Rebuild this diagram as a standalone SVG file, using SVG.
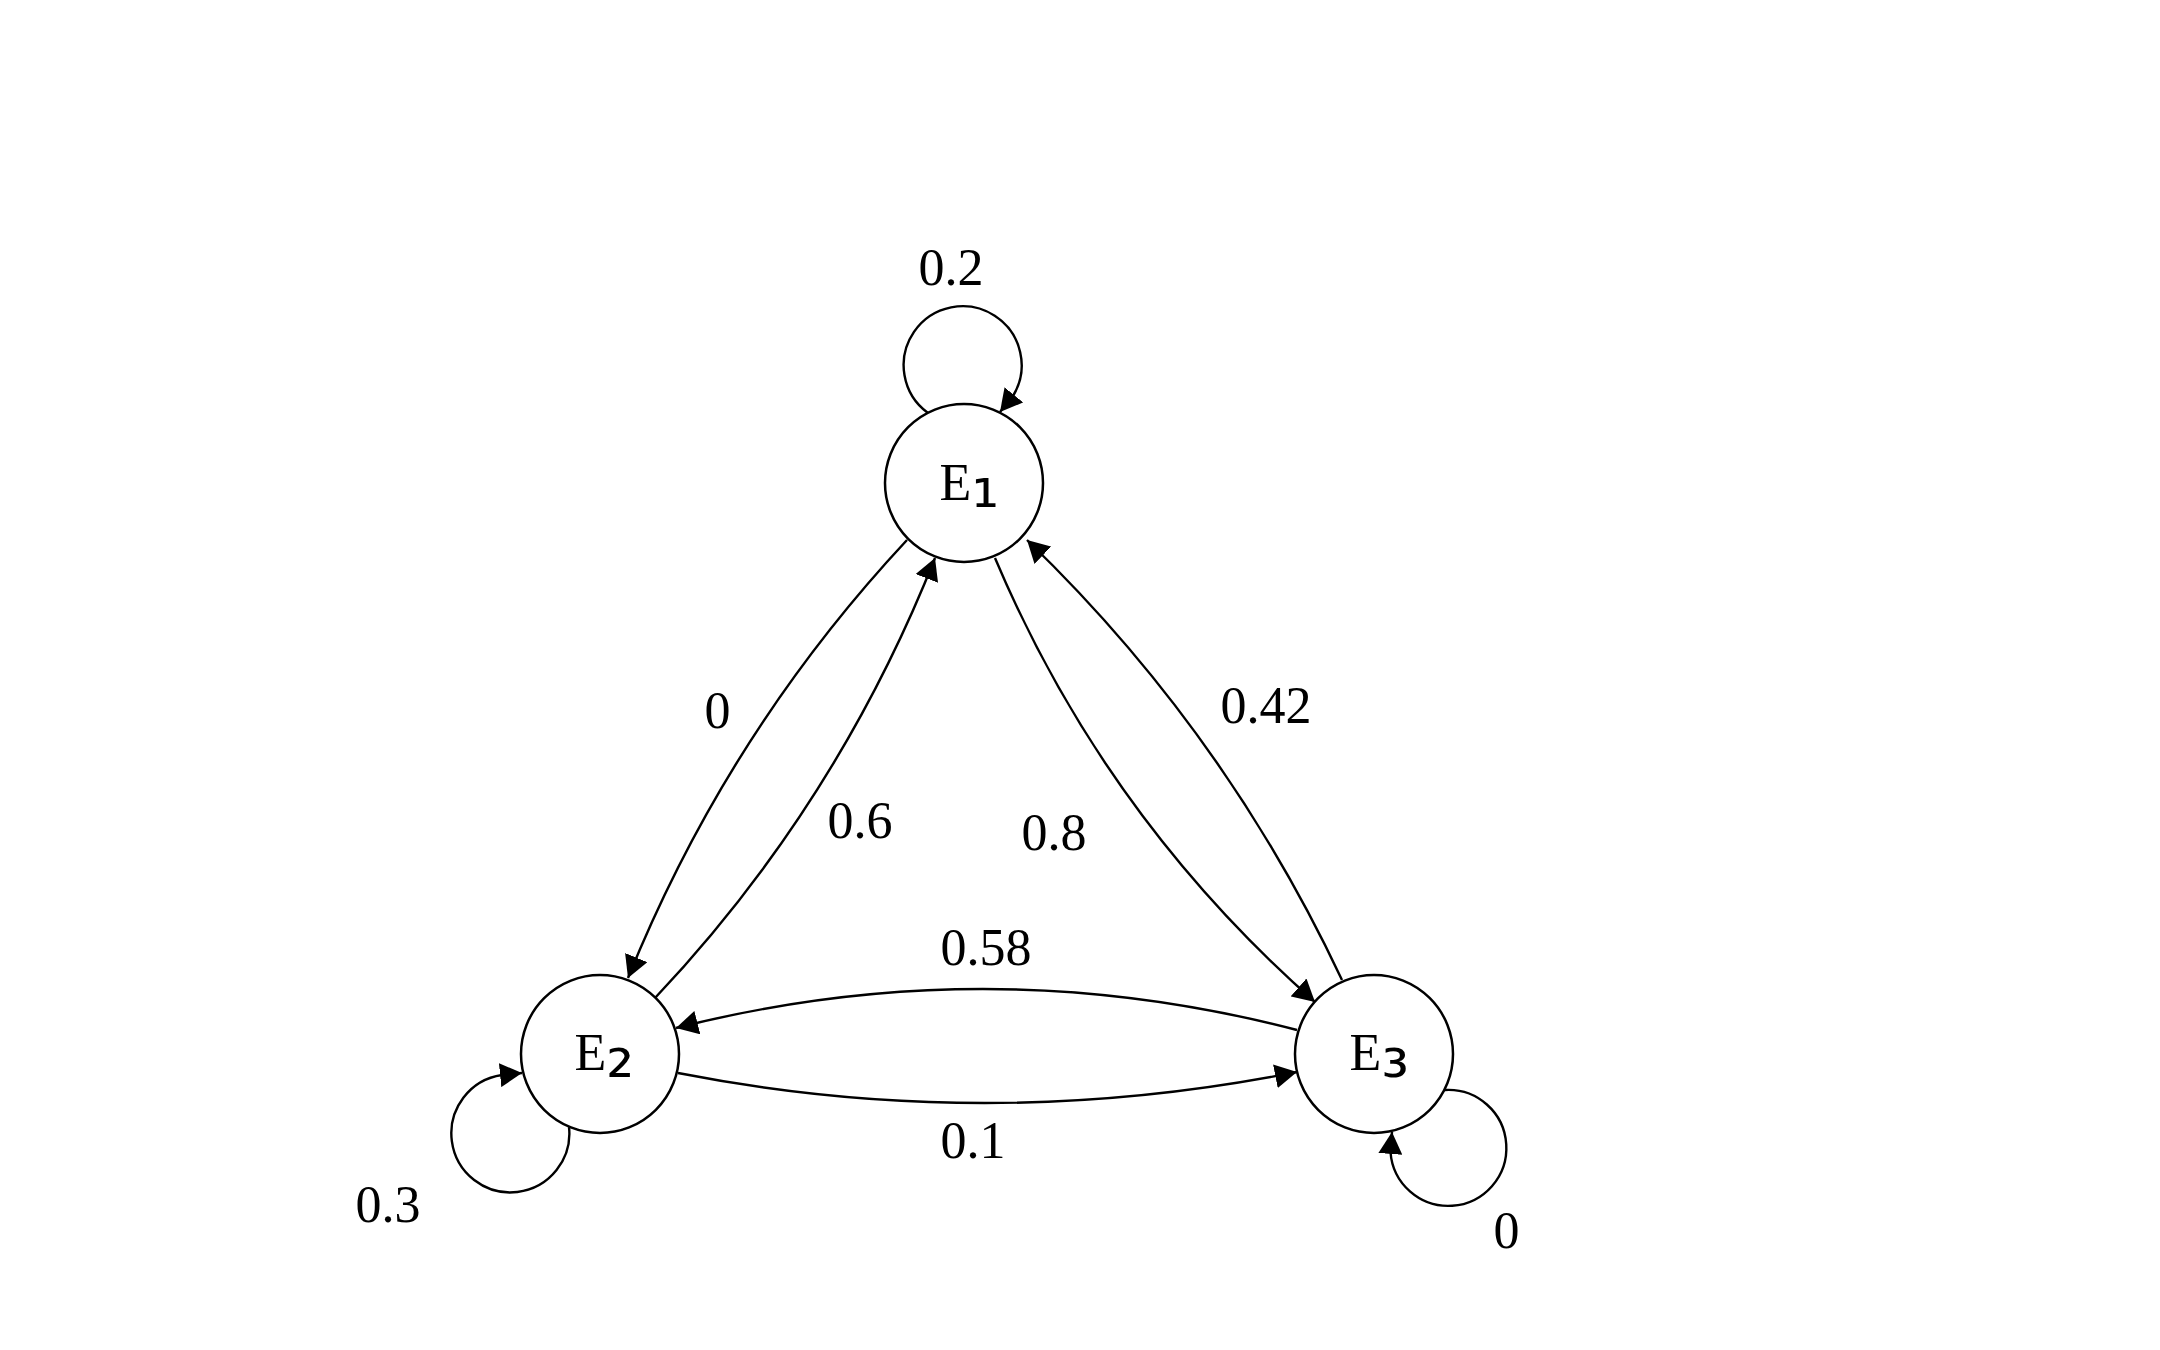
<svg xmlns="http://www.w3.org/2000/svg" width="2160" height="1350" viewBox="0 0 2160 1350">
<style>
.edge{fill:none;stroke:#000;stroke-width:2.4;marker-end:url(#arrow)}
.node{fill:#fff;stroke:#000;stroke-width:2.5}
.lbl{font-family:"Liberation Serif","Times New Roman",serif;font-size:52px;fill:#000}
.sub{font-family:"DejaVu Sans","Noto Sans",sans-serif;font-size:70px}
</style>
<defs>
<marker id="arrow" viewBox="0 0 22 24" refX="22" refY="12" markerWidth="22" markerHeight="24" markerUnits="userSpaceOnUse" orient="auto">
<path d="M0,0L22,12L0,24z" fill="#000"/>
</marker>
</defs>
<rect width="2160" height="1350" fill="#fff"/>
<g id="connectors">
<path class="edge" d="M928,413 A59,59 0 1 1 1013,396 L1000,412"/>
<path class="edge" d="M569,1127 A59,59 0 1 1 502,1075 L522,1073"/>
<path class="edge" d="M1445,1090 A58,58 0 1 1 1390.5,1152 L1392,1132"/>
<path class="edge" d="M907,540 Q727,733 628,978"/>
<path class="edge" d="M655,998 Q837,805 935,558"/>
<path class="edge" d="M995,558 Q1104,816 1315,1002"/>
<path class="edge" d="M1342,980 Q1225,731 1027,540"/>
<path class="edge" d="M1297,1030 Q987,949 676,1028"/>
<path class="edge" d="M678,1073 Q987,1133.5 1297,1072"/>
<text class="lbl" x="918.5" y="285">0.2</text>
<text class="lbl" x="355.5" y="1222">0.3</text>
<text class="lbl" x="1493.5" y="1248">0</text>
<text class="lbl" x="704.5" y="728">0</text>
<text class="lbl" x="827.5" y="838">0.6</text>
<text class="lbl" x="1021.5" y="850">0.8</text>
<text class="lbl" x="1220.5" y="723">0.42</text>
<text class="lbl" x="940.5" y="965">0.58</text>
<text class="lbl" x="940.5" y="1158">0.1</text>
</g>
<g id="E1">
<circle class="node" cx="964" cy="483" r="79"/>
<text class="lbl" x="939.5" y="500">E<tspan class="sub" dy="7">₁</tspan></text>
</g>
<g id="E2">
<circle class="node" cx="600" cy="1054" r="79"/>
<text class="lbl" x="574.5" y="1070">E<tspan class="sub" dy="7">₂</tspan></text>
</g>
<g id="E3">
<circle class="node" cx="1374" cy="1054" r="79"/>
<text class="lbl" x="1349.5" y="1070">E<tspan class="sub" dy="7">₃</tspan></text>
</g>
</svg>
